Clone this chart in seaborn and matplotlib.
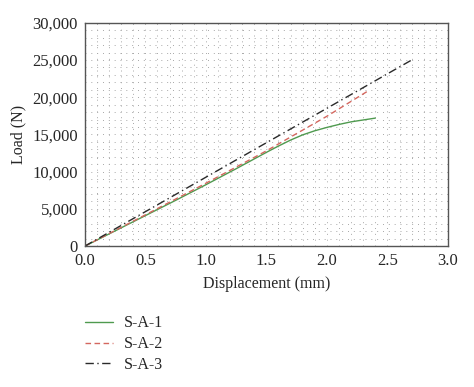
import numpy as np
import pandas as pd
import seaborn as sns
import matplotlib.pyplot as plt
from matplotlib.ticker import MultipleLocator, StrMethodFormatter

# data
disp_1 = [0.0, 0.25, 0.5, 0.75, 1.0, 1.25, 1.5, 1.6, 1.7, 1.8, 1.9, 2.0, 2.1, 2.2, 2.3, 2.4]
load_1 = [0, 2050, 4100, 6150, 8250, 10400, 12600, 13450, 14250, 14950, 15500, 15950, 16350, 16700, 16950, 17200]

disp_2 = [0.0, 0.5, 1.0, 1.5, 2.0, 2.33]
load_2 = [0, 4200, 8450, 12800, 17450, 20750]

disp_3 = [0.0, 2.7]
load_3 = [0, 25000]

names = ['S-A-1', 'S-A-2', 'S-A-3']

sns.set_style('white')
plt.rcParams['font.family'] = ['Liberation Serif', 'DejaVu Serif']

fig = plt.figure(figsize=(4.74, 3.87), dpi=100)
ax = fig.add_axes([0.179, 0.364, 0.766, 0.577])

series = [(disp_1, load_1), (disp_2, load_2), (disp_3, load_3)]
colors = ['#4f9a4f', '#d4675f', '#2a2a2a']
styles = ['-', (0, (4, 2.5)), (0, (6, 2.5, 1, 2.5))]

for (x, y), name, c, ls in zip(series, names, colors, styles):
    df = pd.DataFrame({'disp': x, 'load': y})
    sns.lineplot(data=df, x='disp', y='load', ax=ax, color=c, linestyle=ls,
                 linewidth=1.0, label=name, legend=False)

ax.set_xlim(0, 3.0)
ax.set_ylim(0, 30000)
ax.xaxis.set_major_locator(MultipleLocator(0.5))
ax.xaxis.set_minor_locator(MultipleLocator(0.1))
ax.yaxis.set_major_locator(MultipleLocator(5000))
ax.yaxis.set_minor_locator(MultipleLocator(1000))
ax.xaxis.set_major_formatter(StrMethodFormatter('{x:.1f}'))
ax.yaxis.set_major_formatter(StrMethodFormatter('{x:,.0f}'))

ax.grid(which='both', color='#a8a8a8', linestyle=(0, (1, 5)), linewidth=0.7)
ax.set_axisbelow(True)

for sp in ax.spines.values():
    sp.set_color('#555555')
    sp.set_linewidth(1.0)

ax.tick_params(which='major', direction='out', length=3, width=0.8,
               color='#555555', labelsize=12)
ax.tick_params(axis='x', which='major', pad=2)
ax.tick_params(axis='y', which='major', pad=2)
ax.tick_params(which='minor', length=0)

ax.set_xlabel('Displacement (mm)', fontsize=11.5, labelpad=5)
ax.set_ylabel('Load (N)', fontsize=11.5, labelpad=4)

handles, labels = ax.get_legend_handles_labels()
fig.legend(handles, labels, loc='upper left', bbox_to_anchor=(0.15, 0.222),
           frameon=False, fontsize=11.5, handlelength=1.7, labelspacing=0.3,
           handletextpad=0.7)

fig.savefig('out.png', dpi=100)
